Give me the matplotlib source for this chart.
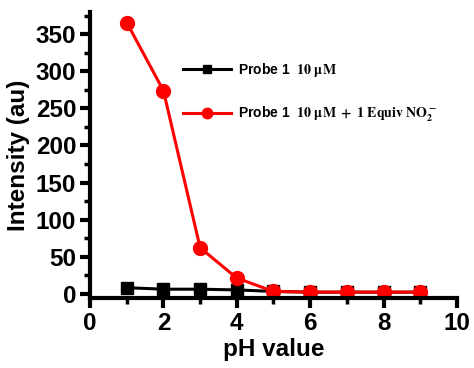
import matplotlib
matplotlib.use("Agg")
import matplotlib.pyplot as plt
from matplotlib.ticker import MultipleLocator

plt.rcParams['font.family'] = ['Liberation Sans', 'DejaVu Sans']
plt.rcParams['mathtext.fontset'] = 'stix'

ph = [1, 2, 3, 4, 5, 6, 7, 8, 9]
probe = [8, 6, 6, 5, 3, 2, 2, 2, 2]
probe_no2 = [366, 274, 62, 21, 3, 2, 2, 2, 2]

label_probe = r'Probe 1  $\mathbf{10\ \mu M}$'
label_no2 = r'Probe 1  $\mathbf{10\ \mu M\ +\ 1\ Equiv\ NO_2^-}$'

fig = plt.figure(figsize=(4.74, 3.68), dpi=100)
ax = fig.add_axes([0.19, 0.19, 0.774, 0.777])

ax.plot(ph, probe, color='black', marker='s', markersize=8.5, lw=2.2,
        label=label_probe)
ax.plot(ph, probe_no2, color='red', marker='o', markersize=10, lw=2.2,
        label=label_no2)

ax.set_xlim(0, 10)
ax.set_ylim(-6, 380)
ax.xaxis.set_major_locator(MultipleLocator(2))
ax.xaxis.set_minor_locator(MultipleLocator(1))
ax.yaxis.set_major_locator(MultipleLocator(50))
ax.yaxis.set_minor_locator(MultipleLocator(25))

for s in ['top', 'right']:
    ax.spines[s].set_visible(False)
for s in ['left', 'bottom']:
    ax.spines[s].set_linewidth(3)

ax.tick_params(which='major', length=7, width=3, labelsize=17.5, pad=3)
ax.tick_params(which='minor', length=4.5, width=2.5)
for lab in ax.get_xticklabels() + ax.get_yticklabels():
    lab.set_fontweight('bold')

ax.set_xlabel('pH value', fontsize=17.5, fontweight='bold', labelpad=2)
ax.set_ylabel('Intensity (au)', fontsize=17.5, fontweight='bold', labelpad=4)

leg = ax.legend(loc='upper left', bbox_to_anchor=(0.253, 0.83), frameon=False,
                prop={'size': 10, 'weight': 'bold'}, labelspacing=1.9,
                handlelength=3.5, handletextpad=0.45, markerscale=0.75,
                borderpad=0, borderaxespad=0)

fig.savefig('out.png', dpi=100)
